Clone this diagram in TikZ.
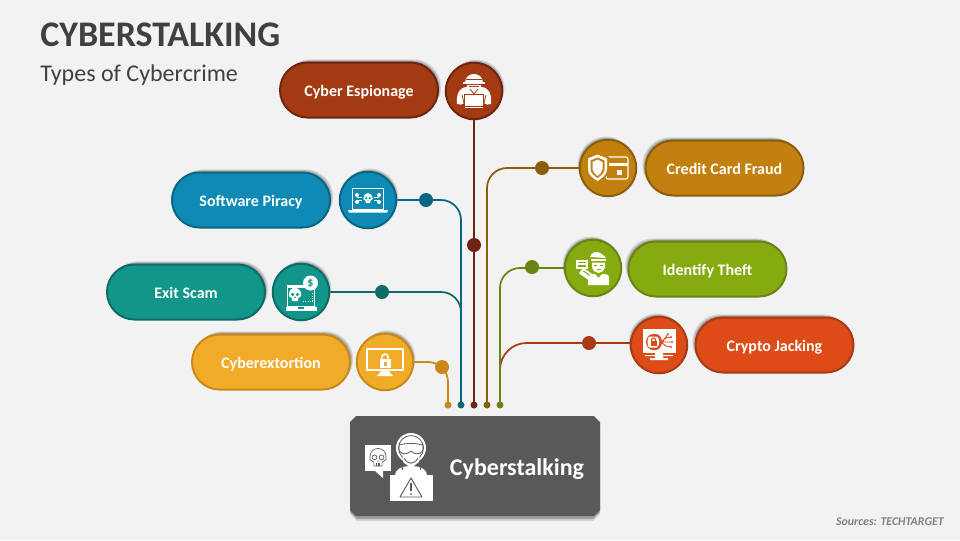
\documentclass[tikz,border=0pt]{standalone}
\usepackage{fontspec}
\setmainfont{Carlito}
\usetikzlibrary{shapes.misc,shadows,calc}
\definecolor{bgc}{HTML}{F2F2F2}
\definecolor{espF}{HTML}{A33A12}\definecolor{espL}{HTML}{6E2410}
\definecolor{pirF}{HTML}{0E8BB5}\definecolor{pirL}{HTML}{0B6585}
\definecolor{exiF}{HTML}{13968A}\definecolor{exiL}{HTML}{0E6C68}
\definecolor{extF}{HTML}{F0AB28}\definecolor{extL}{HTML}{C8891A}
\definecolor{creF}{HTML}{C2800F}\definecolor{creL}{HTML}{8A5E0C}
\definecolor{ideF}{HTML}{86AB10}\definecolor{ideL}{HTML}{6A8414}
\definecolor{cryF}{HTML}{DD4C18}\definecolor{cryL}{HTML}{A83A14}
\definecolor{boxF}{HTML}{595959}
\definecolor{titleC}{HTML}{404040}
\tikzset{
 pill/.style={rounded rectangle,rounded rectangle arc length=180,minimum width=158*0.75pt,minimum height=55*0.75pt,inner sep=0pt,line width=1.5pt,text=white,text height=9.5pt,text depth=0pt,font=\fontsize{12}{14}\selectfont\bfseries},
 disc/.style={circle,minimum size=56.5*0.75pt,inner sep=0pt,line width=1.5pt},
 sha/.style={drop shadow={shadow xshift=#1*1.6,shadow yshift=2.4pt,opacity=.1,fill=black},
             drop shadow={shadow xshift=#1*1.1,shadow yshift=1.7pt,opacity=.14,fill=black},
             drop shadow={shadow xshift=#1*.6,shadow yshift=1pt,opacity=.18,fill=black}},
 conn/.style={line width=1.3pt,rounded corners=15pt},
 bigdot/.style={circle,minimum size=14*0.75pt,inner sep=0pt},
 enddot/.style={circle,minimum size=7*0.75pt,inner sep=0pt},
 wl/.style={draw=white,line width=.75pt,fill=none},
}
\newcommand{\myskull}[5]{\begin{scope}[shift={(#1,#2)},scale=#3]
 \fill[#4] (-5,-1) arc[start angle=180,end angle=360,radius=5] -- (5,1) -- (2.6,2.6) -- (2.6,5) -- (-2.6,5) -- (-2.6,2.6) -- (-5,1) -- cycle;
 \fill[#5] (-2,-.4) circle[radius=1.4]; \fill[#5] (2,-.4) circle[radius=1.4];
 \fill[#5] (0,1) -- (.8,2.4) -- (-.8,2.4) -- cycle;
\end{scope}}
\begin{document}
\begin{tikzpicture}[x=0.75pt,y=-0.75pt]
\useasboundingbox (0,0) rectangle (960,540);
\fill[bgc] (0,0) rectangle (960,540);
\node[anchor=west,inner sep=0pt,text=titleC,font=\fontsize{27}{32}\selectfont\bfseries] (title) at (40,34.5) {CYBERSTALKING};
\node[anchor=west,inner sep=0pt,text=titleC,font=\fontsize{18}{22}\selectfont] (subtitle) at (40,75) {Types of Cybercrime};
\node[anchor=east,inner sep=0pt,text=gray,font=\fontsize{8.9}{10}\selectfont\bfseries\itshape] (src) at (944,522) {Sources: TECHTARGET};

\node[enddot,fill=extL] (eExt) at (448,405) {};
\node[enddot,fill=exiL] (ePir) at (461,405) {};
\node[enddot,fill=espL] (eEsp) at (474,405) {};
\node[enddot,fill=creL] (eCre) at (487,405) {};
\node[enddot,fill=ideL] (eIde) at (500,405) {};

\node[pill,fill=espF,draw=espL,sha=1.5pt] (pEsp) at (359,90) {Cyber Espionage};
\node[pill,fill=pirF,draw=pirL,sha=1.5pt] (pPir) at (251,200) {Software Piracy};
\node[pill,fill=exiF,draw=exiL,sha=1.5pt] (pExi) at (186,292) {Exit Scam};
\node[pill,fill=extF,draw=extL,sha=1.5pt] (pExt) at (271,362) {Cyberextortion};
\node[pill,fill=creF,draw=creL,sha=-1.5pt] (pCre) at (724.5,168) {Credit Card Fraud};
\node[pill,fill=ideF,draw=ideL,sha=-1.5pt] (pIde) at (707.5,269) {Identify Theft};
\node[pill,fill=cryF,draw=cryL,sha=-1.5pt] (pCry) at (774.5,345) {Crypto Jacking};

\node[disc,fill=espF,draw=espL,sha=1pt] (cEsp) at (474,91) {};
\node[disc,fill=pirF,draw=pirL,sha=1pt] (cPir) at (368,200) {};
\node[disc,fill=exiF,draw=exiL,sha=1pt] (cExi) at (301,292) {};
\node[disc,fill=extF,draw=extL,sha=1pt] (cExt) at (385,362) {};
\node[disc,fill=creF,draw=creL,sha=-1pt] (cCre) at (608,168) {};
\node[disc,fill=ideF,draw=ideL,sha=-1pt] (cIde) at (593,268) {};
\node[disc,fill=cryF,draw=cryL,sha=-1pt] (cCry) at (659,345) {};

% connectors
\draw[conn,draw=espL] (cEsp.south) -- (eEsp.center);
\draw[conn,draw=exiL] (cExi.east) -| (ePir.center);
\draw[conn,draw=pirL] (cPir.east) -| (ePir.center);
\draw[conn,draw=extL] (cExt.east) -| (eExt.center);
\draw[conn,draw=creL] (cCre.west) -| (eCre.center);
\coordinate (jCry) at ($(cCry.west)+(0,-2)$);
\draw[conn,draw=cryL,rounded corners=20pt] (jCry) -| (eIde.center);
\draw[line width=1.3pt,draw=ideL] (500,362) -- (eIde.center);
\draw[conn,draw=ideL] (cIde.west) -| (500,362);

\node[bigdot,fill=espL] (dEsp) at (474,245) {};
\node[bigdot,fill=pirL] (dPir) at (426,200) {};
\node[bigdot,fill=exiL] (dExi) at (382,292) {};
\node[bigdot,fill=extL] (dExt) at (442,367) {};
\node[bigdot,fill=creL] (dCre) at (542,168) {};
\node[bigdot,fill=ideL] (dIde) at (532,267) {};
\node[bigdot,fill=cryL] (dCry) at (589,343) {};

% espionage
\begin{scope}[shift={(474,91)}]
 \fill[white] (-17,13) .. controls (-18,2) and (-14,-4) .. (-7,-4) -- (7,-4) .. controls (14,-4) and (18,2) .. (17,13) .. controls (14,14) and (12,14) .. (10,12) -- (-10,12) .. controls (-12,14) and (-14,14) .. (-17,13) -- cycle;
 \fill[white] (-9,-8) .. controls (-9,-20) and (9,-20) .. (9,-8) -- cycle;
 \fill[white] (-11,-9) rectangle (11,-7);
 \fill[white] (-7,-6) rectangle (7,-2);
 \fill[espF] (-8,-12.5) rectangle (8,-11);
 \fill[espF] (-5,-5) rectangle (5,-4);
 \draw[espF,line width=.7pt,fill=white] (-9.5,3.5) rectangle (9.5,15);
 \fill[white] (-9,16) rectangle (9,17);
 \draw[espF,line width=.6pt] (-12,4) -- (-10,12) (12,4) -- (10,12) (-4,-2) -- (0,3) -- (4,-2);
\end{scope}
% piracy
\begin{scope}[shift={(368,200)}]
 \draw[wl] (-15.5,-12) rectangle (15.5,9);
 \fill[white] (-20,10) -- (20,10) -- (19,12.5) -- (-19,12.5) -- cycle;
 \myskull{0}{-1.5}{.9}{white}{pirF}
 \fill[white] (-11,-5) circle[radius=2]; \fill[white] (11,-5) circle[radius=2];
 \fill[white] (-11,2) circle[radius=2]; \fill[white] (11,2) circle[radius=2];
 \fill[white] (-11,-3.5) rectangle (-6,-2); \fill[white] (6,-3.5) rectangle (11,-2);
 \fill[white] (-11,.5) rectangle (-6,-.5); \fill[white] (6,.5) rectangle (11,-.5);
\end{scope}
% exit scam
\begin{scope}[shift={(301,292)}]
 \draw[wl] (-14,-7) rectangle (13,14);
 \fill[white] (-15,15) rectangle (16,19);
 \fill[exiF] (-3,15) rectangle (3,16.5);
 \fill[white] (-14,-7) rectangle (8,-4);
 \myskull{-6}{3}{1.2}{white}{exiF}
 \draw[white,line width=.7pt,densely dotted] (2,9) -- (12,9) (11,9) -- (11,0);
 \fill[white] (9.5,-9) circle[radius=7.5];
 \node[text=exiF,font=\fontsize{9}{9}\selectfont\bfseries,inner sep=0pt] (dollar) at (9.5,-9) {\$};
\end{scope}
% cyberextortion
\begin{scope}[shift={(385,362)}]
 \draw[white,line width=1pt] (-18,-13) rectangle (18,8);
 \fill[white] (-3,8) -- (3,8) -- (8,14) -- (-8,14) -- cycle;
 \fill[white] (-5.5,-3.5) rectangle (5.5,6);
 \draw[white,line width=1.2pt] (-3,-3.5) -- (-3,-5) arc[start angle=180,end angle=360,radius=3] -- (3,-3.5);
 \fill[extF] (-1.5,-.5) rectangle (1.5,3.5);
\end{scope}
% credit card
\begin{scope}[shift={(608,168)}]
 \draw[white,line width=.8pt,rounded corners=1.5pt] (-2,-11) rectangle (20,11);
 \fill[white] (-2,-5) rectangle (20,-2);
 \fill[white] (9,2) rectangle (14,7);
 \fill[creF] (-11,-15) -- (1,-11) -- (1,2) .. controls (1,8) and (-6,13) .. (-11,15) -- cycle;
 \fill[white] (-10.5,-13.5) -- (-20,-9.5) -- (-20,1) .. controls (-20,7) and (-15,10) .. (-10.5,13) .. controls (-6,10) and (-1,7) .. (-1,1) -- (-1,-9.5) -- cycle;
 \fill[creF] (-10.5,-10.5) -- (-17.5,-7.5) -- (-17.5,1) .. controls (-17.5,5) and (-14,7.5) .. (-10.5,10) .. controls (-7,7.5) and (-3.5,5) .. (-3.5,1) -- (-3.5,-7.5) -- cycle;
 \fill[white] (-10.5,-8.5) -- (-15.5,-6) -- (-15.5,1) .. controls (-15.5,4) and (-13,6) .. (-10.5,8) .. controls (-8,6) and (-5.5,4) .. (-5.5,1) -- (-5.5,-6) -- cycle;
\end{scope}
% identify theft
\begin{scope}[shift={(593,268)}]
 \fill[white] (-3,-11) .. controls (-2,-15) and (3,-18) .. (7,-15) .. controls (10,-13) and (12,-12) .. (13,-10) -- cycle;
 \fill[white] (-2,-9.5) rectangle (13,-7);
 \fill[white] (-1,-5.5) -- (12,-5.5) -- (12,-1) .. controls (11,3) and (8,5) .. (5.5,5) .. controls (3,5) and (0,3) .. (-1,-1) -- cycle;
 \fill[ideF] (1,-3.5) rectangle (4,-2.5); \fill[ideF] (7,-3.5) rectangle (10,-2.5);
 \fill[ideF] (3.5,0.5) rectangle (7.5,1.3);
 \fill[white] (-5,6) .. controls (-3,7) and (0,6) .. (2,6) -- (5.5,10) -- (9,6) .. controls (11,6) and (16,6) .. (16,9) -- (16,17) -- (-5,17) -- cycle;
 \draw[white,line width=.8pt] (-16,-7) rectangle (-6,0);
 \fill[white] (-16,-5) rectangle (-6,-3);
 \begin{scope}[shift={(-7,6)},rotate=-35]
  \fill[white] (-6,-3.5) rectangle (6,3.5);
  \fill[ideF] (-4,-1.5) rectangle (4,-.5);
 \end{scope}
\end{scope}
% crypto jacking
\begin{scope}[shift={(659,345)}]
 \fill[white] (-16.5,-16) rectangle (17,8);
 \fill[white] (-14,10) rectangle (14,11) (-4,8) rectangle (4,13) (-9,13) rectangle (9,15);
 \fill[cryF] (-6,-11) -- (-3,-11) .. controls (0,-11) and (3,-7) .. (3,-3) .. controls (3,1) and (0,5) .. (-3,5) -- (-6,5) .. controls (-10,5) and (-13,1) .. (-13,-3) .. controls (-13,-7) and (-10,-11) .. (-6,-11) -- cycle;
 \fill[white] (-10,-8.5) .. controls (-12,-6) and (-12,0) .. (-10,2.5) -- (-2,2.5) .. controls (1,0) and (1,-6) .. (-2,-8.5) -- cycle;
 \fill[cryF] (-8.5,-4) rectangle (-2.5,1);
 \draw[cryF,line width=.8pt] (-7.5,-4) -- (-7.5,-5) arc[start angle=180,end angle=360,radius=2] -- (-3.5,-4);
 \draw[cryF,line width=.7pt] (2,-3) -- (7,-7) -- (12,-8)
   (2,-3) -- (13,-3) (2,-3) -- (7,1) -- (12,2) (2,-1) -- (9,-11);
 \fill[cryF] (12,-8) circle[radius=1] (13,-3) circle[radius=1] (12,2) circle[radius=1] (9,-11) circle[radius=1];
\end{scope}

% central box
\node[minimum width=250*0.75pt,minimum height=100*0.75pt,inner sep=0pt] (hub) at (475,466) {};
\fill[black,opacity=.12] (350,427) -- (357,420) -- (593,420) -- (600,427) -- (600,514) -- (593,521) -- (357,521) -- (350,514) -- cycle;
\fill[black,opacity=.25] (350,425) -- (357,418) -- (593,418) -- (600,425) -- (600,512) -- (593,519) -- (357,519) -- (350,512) -- cycle;
\fill[boxF] (350,422) -- (356,416) -- (594,416) -- (600,422) -- (600,510) -- (594,516) -- (356,516) -- (350,510) -- cycle;
\node[text=white,inner sep=0pt,font=\fontsize{18}{22}\selectfont\bfseries] (hubt) at (517,469) {Cyberstalking};
% hub icon
\fill[white] (365,445) rectangle (391,471);
\fill[white] (375,471) -- (383,478) -- (383,471) -- cycle;
\begin{scope}[shift={(378,458)},scale=1.6]
 \draw[boxF,line width=.5pt,fill=white] (-5,-1) arc[start angle=180,end angle=360,radius=5] -- (5,1) -- (2.6,2.6) -- (2.6,5) -- (-2.6,5) -- (-2.6,2.6) -- (-5,1) -- cycle;
 \draw[boxF,line width=.5pt] (-2.2,-.4) circle[radius=1.5] (2.2,-.4) circle[radius=1.5] (0,1.5) -- (0,2.5);
 \draw[boxF,line width=.4pt] (-1,3) -- (-1,5) (0,3) -- (0,5) (1,3) -- (1,5);
\end{scope}
\fill[white] (395,476) .. controls (395,468) and (404,466) .. (411,466) .. controls (418,466) and (427,468) .. (427,476) -- cycle;
\fill[white] (411,448) circle[radius=15];
\draw[boxF,line width=.6pt] (411,448) circle[radius=12.5];
\fill[white] (403,452) -- (419,452) -- (419,462) -- (411,468) -- (403,462) -- cycle;
\draw[boxF,line width=.6pt] (402,461) -- (402,470) (420,461) -- (420,470);
\draw[boxF,line width=.6pt] (399,445) .. controls (405,443) and (417,443) .. (423,445) -- (423,450) .. controls (420,456) and (414,454) .. (411,451) .. controls (408,454) and (402,456) .. (399,450) -- cycle;
\draw[boxF,line width=.6pt] (404,458) .. controls (408,465) and (414,465) .. (418,458);
\fill[white] (390,475) rectangle (433,501);
\draw[boxF,line width=.7pt,line join=round] (411,478) -- (422,497) -- (400,497) -- cycle;
\fill[boxF] (410.2,483) rectangle (411.8,491);
\fill[boxF] (411,494) circle[radius=1];
\end{tikzpicture}
\end{document}
